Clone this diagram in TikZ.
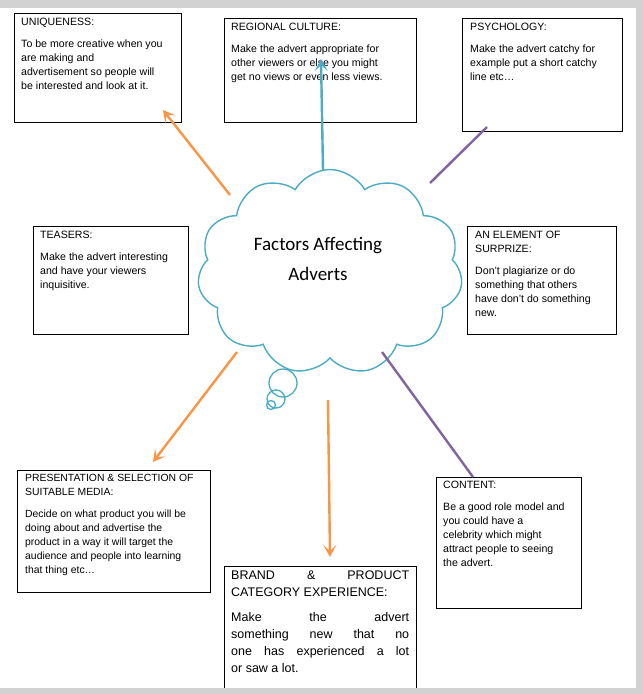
\documentclass[tikz,border=0pt]{standalone}
\usepackage{fontspec}
\setmainfont{Liberation Sans}
\newfontfamily\carl{Carlito}
\usetikzlibrary{shapes.symbols,arrows.meta}
\definecolor{orng}{RGB}{247,150,70}
\definecolor{teal2}{RGB}{75,172,198}
\definecolor{purp}{RGB}{128,100,162}
\begin{document}
\begin{tikzpicture}[x=1pt,y=-1pt,
  txt/.style={anchor=north west,align=left,font=\fontsize{10.6}{14}\selectfont,inner sep=0pt},
  arr/.style={orng,line width=2.4pt,-{Stealth[length=12pt,width=13pt,inset=6pt]}},
  pl/.style={purp,line width=2.4pt}]
\fill[gray!35] (0,0) rectangle (643,694);
\fill[white] (0,8) rectangle (636,688);
% boxes
\draw[line width=0.9pt] (14,13) rectangle (181,122);
\node[txt] (u) at (21,18) {UNIQUENESS:\\[8pt]To be more creative when you\\are making and\\advertisement so people will\\be interested and look at it.};
\draw[line width=0.9pt] (224,18) rectangle (416,122);
\node[txt] (r) at (231,23) {REGIONAL CULTURE:\\[8pt]Make the advert appropriate for\\other viewers or else you might\\get no views or even less views.};
\draw[line width=0.9pt] (462,18) rectangle (622,131);
\node[txt] (p) at (470,23) {PSYCHOLOGY:\\[8pt]Make the advert catchy for\\example put a short catchy\\line etc\dots};
\draw[line width=0.9pt] (33,226) rectangle (188,334);
\node[txt] (t) at (40,231) {TEASERS:\\[8pt]Make the advert interesting\\and have your viewers\\inquisitive.};
\draw[line width=0.9pt] (467,226) rectangle (616,334);
\node[txt] (e) at (475,231) {AN ELEMENT OF\\SURPRIZE:\\[8pt]Don't plagiarize or do\\something that others\\have don't do something\\new.};
\draw[line width=0.9pt] (17,470) rectangle (210,592);
\node[txt,font=\fontsize{10.4}{14}\selectfont] (ps) at (25,474) {PRESENTATION \& SELECTION OF\\SUITABLE MEDIA:\\[8pt]Decide on what product you will be\\doing about and advertise the\\product in a way it will target the\\audience and people into learning\\that thing etc\dots};
\draw[line width=0.9pt] (436,477) rectangle (581,608);
\node[txt] (c) at (443,481) {CONTENT:\\[8pt]Be a good role model and\\you could have a\\celebrity which might\\attract people to seeing\\the advert.};
\draw[line width=0.9pt] (224,566) -- (224,688) (224,566) -- (416,566) -- (416,688);
\node[txt,text width=178,align=justify,font=\fontsize{12.5}{17}\selectfont] (b) at (231,571) {BRAND \hfill \& \hfill PRODUCT\\ CATEGORY EXPERIENCE:\\[8pt]Make \hfill the \hfill advert\\ something \hfill new \hfill that \hfill no\\ one \hfill has \hfill experienced \hfill a \hfill lot\\ or saw a lot.};
% cloud
\node[cloud,cloud puffs=11,cloud puff arc=120,aspect=1.25,draw=teal2,line width=1.4pt,minimum width=265,minimum height=205] (cl) at (330,272) {};
\node[font=\carl\fontsize{19}{30}\selectfont,align=center] (ct) at (318,259) {Factors Affecting\\Adverts};
\draw[teal2,line width=1.3pt] (283,383) circle (14) (276,399) circle (9) (271,405) circle (4.5);
% connectors
\coordinate (a1) at (230,195); \coordinate (a1e) at (163,110);
\coordinate (a2) at (323,170); \coordinate (a2e) at (321,59);
\coordinate (a3) at (430,183); \coordinate (a3e) at (487,127);
\coordinate (a4) at (237,352); \coordinate (a4e) at (153,462);
\coordinate (a5) at (328,400); \coordinate (a5e) at (330,557);
\coordinate (a6) at (382,352); \coordinate (a6e) at (473,477);
\draw[arr] (a1) -- (a1e);
\draw[arr,teal2] (a2) -- (a2e);
\draw[pl] (a3) -- (a3e);
\draw[arr] (a4) -- (a4e);
\draw[arr] (a5) -- (a5e);
\draw[pl] (a6) -- (a6e);
\end{tikzpicture}
\end{document}
